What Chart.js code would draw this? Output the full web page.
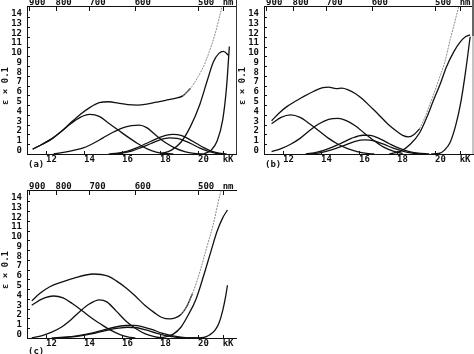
<!DOCTYPE html>
<html>
<head>
<meta charset="utf-8">
<script src="https://cdn.jsdelivr.net/npm/chart.js@4.4.1/dist/chart.umd.min.js"></script>
<style>
  body { margin: 0; background: #fff; width: 474px; height: 354px; position: relative; overflow: hidden; }
  .panneau { position: absolute; }
  canvas { display: block; }
</style>
</head>
<body>
<div class="panneau" style="left:0;top:0"><canvas id="graph_a" width="237" height="175"></canvas></div>
<div class="panneau" style="left:237px;top:0"><canvas id="graph_b" width="237" height="175"></canvas></div>
<div class="panneau" style="left:0;top:177px"><canvas id="graph_c" width="237" height="177"></canvas></div>
<script>
// axes
var yTicks = [0, 1, 2, 3, 4, 5, 6, 7, 8, 9, 10, 11, 12, 13, 14];
var kkTicks = [12, 14, 16, 18, 20];
var nmTicks = [900, 800, 700, 600, 500];
var unitPos = 21.3;

// (a)
var aEnvX = [11.3, 11.8, 12.3, 12.8, 13.3, 13.8, 14.3, 14.8, 15.3, 15.8, 16.3, 16.8, 17.3, 17.8, 18.3, 18.8, 19.2, 19.6];
var aEnvY = [0.5, 1.0, 1.55, 2.3, 3.2, 4.05, 4.75, 5.25, 5.35, 5.2, 5.05, 5.0, 5.1, 5.3, 5.5, 5.7, 5.95, 6.7];
var aObsX = [19.2, 19.6, 20.0, 20.3, 20.6, 20.9, 21.1, 21.3];
var aObsY = [5.95, 6.7, 7.9, 9.0, 10.5, 12.3, 13.8, 15.4];
var aG1X = [11.3, 11.8, 12.3, 12.8, 13.3, 13.8, 14.3, 14.8, 15.3, 15.8, 16.3, 16.8, 17.3, 17.8, 18.3, 18.7];
var aG1Y = [0.5, 1.0, 1.55, 2.3, 3.1, 3.75, 4.05, 3.85, 3.15, 2.45, 1.75, 1.1, 0.55, 0.2, 0.05, 0];
var aG2X = [12.4, 13.0, 13.5, 14.0, 14.5, 15.0, 15.5, 16.0, 16.5, 16.9, 17.3, 17.8, 18.3, 18.8, 19.3, 19.8, 20.3];
var aG2Y = [0, 0.2, 0.4, 0.65, 1.1, 1.65, 2.2, 2.65, 2.9, 2.95, 2.7, 1.9, 1.15, 0.6, 0.25, 0.07, 0];
var aG3X = [15.3, 15.8, 16.3, 16.8, 17.3, 17.8, 18.3, 18.7, 19.1, 19.5, 19.9, 20.3, 20.7, 21.1, 21.5];
var aG3Y = [0, 0.1, 0.3, 0.65, 1.1, 1.55, 1.9, 2.0, 1.9, 1.55, 1.1, 0.65, 0.3, 0.1, 0];
var aG4X = [15.5, 16.0, 16.5, 17.0, 17.5, 18.0, 18.5, 18.9, 19.3, 19.7, 20.1, 20.5, 20.9, 21.3];
var aG4Y = [0, 0.1, 0.3, 0.65, 1.05, 1.45, 1.65, 1.6, 1.35, 1.0, 0.6, 0.3, 0.1, 0];
var aG5X = [18.0, 18.6, 19.1, 19.6, 20.1, 20.5, 20.8, 21.1, 21.35, 21.6];
var aG5Y = [0, 0.4, 1.2, 2.8, 5.1, 7.6, 9.4, 10.3, 10.5, 10.1];
var aG6X = [20.3, 20.7, 21.0, 21.3, 21.5, 21.65];
var aG6Y = [0, 0.4, 1.3, 3.5, 6.8, 11.0];

// (b)
var bEnvX = [11.4, 11.8, 12.2, 12.7, 13.1, 13.6, 14.1, 14.4, 14.8, 15.1, 15.4, 15.8, 16.2, 16.6, 17.0, 17.5, 18.0, 18.3, 18.6, 18.9, 19.2];
var bEnvY = [3.4, 4.2, 4.85, 5.45, 5.9, 6.4, 6.8, 6.85, 6.7, 6.75, 6.6, 6.2, 5.6, 4.85, 4.1, 3.1, 2.3, 1.9, 1.75, 2.0, 2.6];
var bObsX = [19.2, 19.5, 19.75, 20.0, 20.25, 20.5, 20.8, 21.0, 21.3];
var bObsY = [2.6, 3.9, 5.2, 6.5, 7.9, 9.3, 11.7, 13.2, 15.5];
var bG1X = [11.4, 11.9, 12.4, 12.9, 13.4, 13.9, 14.4, 14.9, 15.4, 15.9, 16.4, 16.8];
var bG1Y = [3.1, 3.75, 4.0, 3.75, 3.1, 2.35, 1.6, 1.0, 0.55, 0.25, 0.07, 0];
var bG2X = [11.4, 11.9, 12.4, 12.9, 13.4, 13.9, 14.4, 14.9, 15.3, 15.8, 16.3, 16.8, 17.3, 17.8, 18.3];
var bG2Y = [0.25, 0.55, 1.0, 1.6, 2.4, 3.1, 3.55, 3.65, 3.45, 2.9, 2.1, 1.35, 0.7, 0.3, 0.05];
var bG3X = [13.2, 13.8, 14.4, 15.0, 15.6, 16.2, 16.6, 17.1, 17.6, 18.1, 18.6, 19.1, 19.7];
var bG3Y = [0, 0.2, 0.55, 1.05, 1.6, 1.92, 1.9, 1.55, 1.05, 0.6, 0.28, 0.1, 0];
var bG4X = [13.4, 14.0, 14.6, 15.2, 15.8, 16.3, 16.8, 17.3, 17.8, 18.3, 18.8, 19.4];
var bG4Y = [0, 0.15, 0.45, 0.85, 1.3, 1.45, 1.35, 1.0, 0.6, 0.3, 0.1, 0];
var bG5X = [17.6, 18.2, 18.7, 19.2, 19.6, 19.9, 20.3, 20.6, 21.0, 21.3, 21.6, 21.85];
var bG5Y = [0, 0.3, 1.0, 2.2, 3.9, 5.4, 7.3, 8.9, 10.5, 11.4, 12.0, 12.2];
var bG6X = [19.8, 20.2, 20.5, 20.8, 21.1, 21.35, 21.6, 21.85];
var bG6Y = [0, 0.05, 0.4, 1.2, 3.0, 5.2, 8.3, 12.0];

// (c)
var cEnvX = [11.25, 11.7, 12.2, 12.7, 13.1, 13.6, 14.1, 14.5, 14.9, 15.3, 15.7, 16.2, 16.7, 17.2, 17.7, 18.1, 18.5, 18.8, 19.1, 19.4, 19.7];
var cEnvY = [3.8, 4.6, 5.25, 5.65, 5.9, 6.2, 6.45, 6.55, 6.5, 6.3, 5.85, 5.15, 4.3, 3.35, 2.6, 2.1, 1.95, 2.05, 2.4, 3.2, 4.5];
var cObsX = [19.1, 19.4, 19.75, 20.1, 20.45, 20.8, 21.15, 21.3];
var cObsY = [2.4, 3.2, 4.75, 6.8, 9.2, 11.6, 14.6, 15.5];
var cG1X = [11.25, 11.8, 12.4, 12.9, 13.4, 13.9, 14.4, 14.9, 15.4, 15.9, 16.3, 16.7];
var cG1Y = [3.35, 4.0, 4.3, 4.1, 3.5, 2.8, 2.05, 1.4, 0.8, 0.35, 0.12, 0];
var cG2X = [11.25, 11.8, 12.3, 12.8, 13.3, 13.8, 14.3, 14.8, 15.2, 15.7, 16.2, 16.7, 17.2, 17.7, 18.2];
var cG2Y = [0, 0.25, 0.6, 1.1, 1.85, 2.75, 3.5, 3.9, 3.7, 2.75, 1.75, 1.0, 0.45, 0.15, 0];
var cG3X = [12.3, 13.0, 13.7, 14.4, 15.0, 15.6, 16.2, 16.6, 17.1, 17.6, 18.1, 18.6, 19.1, 19.7, 20.1];
var cG3Y = [0, 0.08, 0.25, 0.5, 0.8, 1.1, 1.28, 1.3, 1.15, 0.85, 0.5, 0.25, 0.1, 0.02, 0];
var cG4X = [12.5, 13.2, 13.9, 14.6, 15.2, 15.8, 16.3, 16.8, 17.3, 17.8, 18.3, 18.8, 19.4, 19.9];
var cG4Y = [0, 0.08, 0.25, 0.5, 0.78, 1.0, 1.1, 1.05, 0.8, 0.5, 0.25, 0.1, 0.02, 0];
var cG5X = [17.8, 18.3, 18.7, 19.1, 19.5, 19.9, 20.3, 20.7, 21.0, 21.3, 21.55];
var cG5Y = [0, 0.12, 0.4, 1.1, 2.4, 4.0, 6.4, 9.0, 10.9, 12.3, 13.1];
var cG6X = [19.9, 20.3, 20.6, 20.9, 21.1, 21.3, 21.45, 21.55];
var cG6Y = [0, 0.05, 0.3, 0.8, 1.5, 2.8, 4.2, 5.4];

var police = {family: '"DejaVu Sans Mono", monospace', size: 9, weight: 'bold'};

function courbe(xs, ys, pointille) {
  return {
    data: xs.map(function (x, i) { return {x: x, y: ys[i]}; }),
    showLine: true,
    borderColor: pointille ? '#8a8a8a' : '#111',
    borderWidth: pointille ? 1 : 1.3,
    borderDash: pointille ? [2, 1] : [],
    pointRadius: 0,
    cubicInterpolationMode: 'monotone',
    fill: false
  };
}

// ticks inward, right border, panel letter and y title
var cadre = {
  id: 'cadre',
  afterDatasetsDraw: function (chart, args, opts) {
    var c = chart.ctx, a = chart.chartArea;
    var sx = chart.scales.x, st = chart.scales.xt, sy = chart.scales.y;
    c.save();
    c.strokeStyle = '#111';
    c.lineWidth = 1;
    c.beginPath();
    sx.ticks.forEach(function (t) {
      var p = Math.round(sx.getPixelForValue(t.value)) + 0.5;
      c.moveTo(p, a.bottom); c.lineTo(p, a.bottom - 3);
    });
    st.ticks.forEach(function (t) {
      var p = Math.round(st.getPixelForValue(t.value)) + 0.5;
      c.moveTo(p, a.top); c.lineTo(p, a.top + 5);
    });
    sy.ticks.forEach(function (t) {
      var p = Math.round(sy.getPixelForValue(t.value)) + 0.5;
      c.moveTo(a.left, p); c.lineTo(a.left + 3, p);
    });
    c.stroke();
    if (opts.bord === 'fin') {
      c.beginPath();
      c.moveTo(a.right + 0.5, 0); c.lineTo(a.right + 0.5, a.bottom);
      c.strokeStyle = '#333';
      c.stroke();
    } else if (opts.bord === 'gris') {
      c.fillStyle = '#666';
      c.fillRect(a.right - 1, 0, 3, 36);
      c.fillStyle = '#c4c4c4';
      c.fillRect(a.right - 1, 36, 3, a.bottom - 36);
    }
    c.fillStyle = '#111';
    c.font = 'bold 9px "DejaVu Sans Mono", monospace';
    c.textAlign = 'left';
    c.textBaseline = 'middle';
    c.fillText(opts.lettre, a.left + 1, a.bottom + opts.dy);
    c.translate(6, a.top + 80);
    c.rotate(-Math.PI / 2);
    c.textAlign = 'center';
    c.fillText('ε × 0.1', 0, 0);
    c.restore();
  }
};

function panneau(id, lettre, dy, haut, bas, bord, courbes) {
  var canvas = document.getElementById(id);
  var hauteur = canvas.height;
  var topLabels = nmTicks.map(String).concat(['nm']);
  return new Chart(canvas, {
    type: 'scatter',
    data: {datasets: courbes},
    options: {
      responsive: false,
      animation: false,
      devicePixelRatio: 1,
      layout: {padding: {left: 0, right: 1, top: 0, bottom: 0}},
      plugins: {
        legend: {display: false},
        tooltip: {enabled: false},
        cadre: {lettre: lettre, dy: dy, bord: bord}
      },
      scales: {
        x: {
          type: 'linear', position: 'bottom', min: 11, max: 22,
          afterBuildTicks: function (s) {
            s.ticks = kkTicks.concat([unitPos]).map(function (v) { return {value: v}; });
          },
          afterFit: function (s) { s.height = hauteur - bas; },
          ticks: {
            font: police, color: '#111', padding: 0, align: 'start', autoSkip: false, maxRotation: 0,
            callback: function (v) { return v === unitPos ? 'kK' : String(v); }
          },
          grid: {display: false, drawTicks: false},
          border: {display: true, color: '#111', width: 1}
        },
        xt: {
          type: 'linear', position: 'top', min: 11, max: 22,
          afterBuildTicks: function (s) {
            s.ticks = nmTicks.map(function (nm) { return {value: 10000 / nm}; }).concat([{value: unitPos}]);
          },
          afterFit: function (s) { s.height = haut; },
          ticks: {
            font: police, color: '#111', padding: -2, align: 'start', autoSkip: false, maxRotation: 0,
            callback: function (v, i) { return topLabels[i]; }
          },
          grid: {display: false, drawTicks: false},
          border: {display: true, color: '#111', width: 1}
        },
        y: {
          type: 'linear', position: 'left', min: 0, max: 15.15,
          afterBuildTicks: function (s) {
            s.ticks = yTicks.map(function (v) { return {value: v}; });
          },
          afterFit: function (s) { s.width = 27; },
          ticks: {font: police, color: '#111', padding: 0, labelOffset: -3.5, autoSkip: false},
          grid: {display: true, drawOnChartArea: false, drawTicks: true, tickLength: 5, tickColor: 'rgba(0,0,0,0)'},
          border: {display: true, color: '#111', width: 1}
        }
      }
    },
    plugins: [cadre]
  });
}

var graphA = panneau('graph_a', '(a)', 11, 6, 154, 'fin', [
  courbe(aObsX, aObsY, true),
  courbe(aEnvX, aEnvY), courbe(aG1X, aG1Y), courbe(aG2X, aG2Y),
  courbe(aG3X, aG3Y), courbe(aG4X, aG4Y), courbe(aG5X, aG5Y), courbe(aG6X, aG6Y)
]);

var graphB = panneau('graph_b', '(b)', 11, 6, 154, 'gris', [
  courbe(bObsX, bObsY, true),
  courbe(bEnvX, bEnvY), courbe(bG1X, bG1Y), courbe(bG2X, bG2Y),
  courbe(bG3X, bG3Y), courbe(bG4X, bG4Y), courbe(bG5X, bG5Y), courbe(bG6X, bG6Y)
]);

var graphC = panneau('graph_c', '(c)', 14, 13, 161, null, [
  courbe(cObsX, cObsY, true),
  courbe(cEnvX, cEnvY), courbe(cG1X, cG1Y), courbe(cG2X, cG2Y),
  courbe(cG3X, cG3Y), courbe(cG4X, cG4Y), courbe(cG5X, cG5Y), courbe(cG6X, cG6Y)
]);
</script>
</body>
</html>
